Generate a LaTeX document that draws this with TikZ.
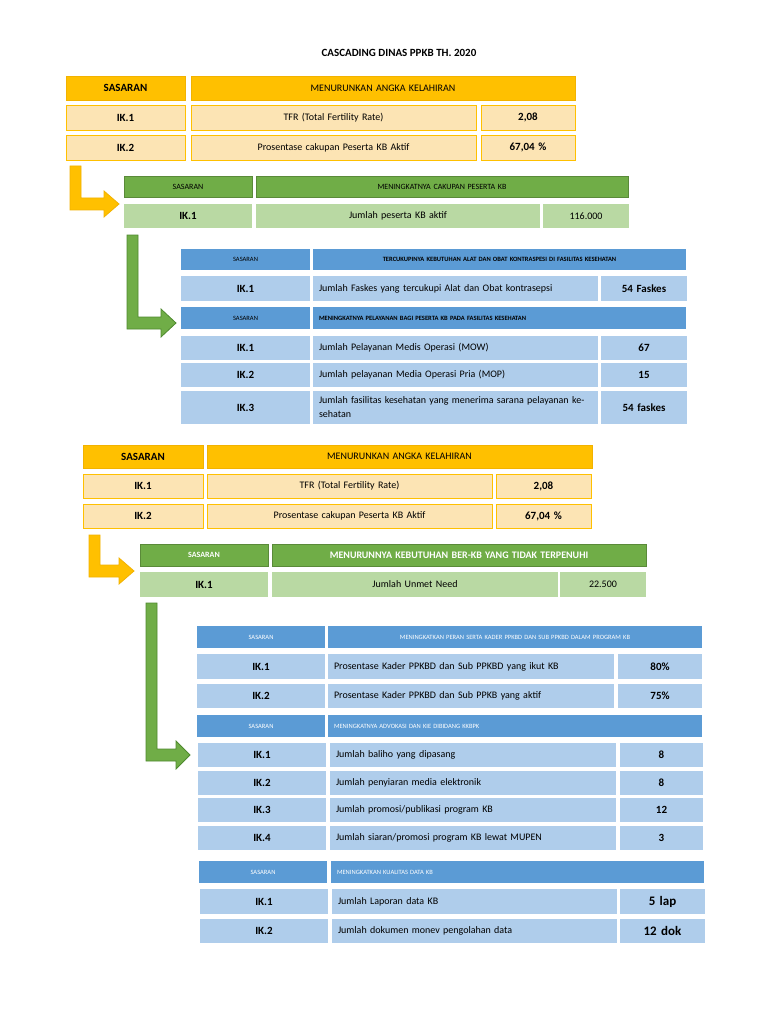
\documentclass[tikz,border=0pt]{standalone}
\usepackage{fontspec}
\setmainfont{Carlito}
\definecolor{orH}{HTML}{FFC000}
\definecolor{orL}{HTML}{FCE4B4}
\definecolor{orE}{HTML}{F2B200}
\definecolor{grH}{HTML}{70AD47}
\definecolor{grL}{HTML}{B9D9A3}
\definecolor{grE}{HTML}{4E8A2E}
\definecolor{blH}{HTML}{5B9BD5}
\definecolor{blL}{HTML}{AFCDEB}
\newcommand\cel[7]{\node[inner sep=0pt,minimum width={(#3-#2)*1pt},minimum height={(#5-#4)*1pt},
  text width={(#3-#2-12)*1pt},#6] (#1) at ({(#2+#3)/2},{(#4+#5)/2}) {#7};}
\begin{document}
\begin{tikzpicture}[x=1pt,y=-1pt,
  oh/.style={fill=orH,draw=orE,line width=0.6pt,align=center,font=\fontsize{10}{12}\selectfont},
  ol/.style={fill=orL,draw=orH,line width=0.6pt,align=center,font=\fontsize{10}{12}\selectfont},
  gh/.style={fill=grH,draw=grH!80!black,line width=0.4pt,align=center,font=\fontsize{8}{10}\selectfont},
  gl/.style={fill=grL,align=center,font=\fontsize{10}{12}\selectfont},
  bh/.style={fill=blH,align=center,font=\fontsize{6.5}{8}\selectfont},
  bl/.style={fill=blL,align=center,font=\fontsize{10}{12}\selectfont},
  lf/.style={align=left},
  bf/.style={font=\bfseries\fontsize{11}{13}\selectfont},
  wt/.style={text=white},
  arrO/.style={fill=orH,draw=orE,line width=0.8pt,line join=miter},
  arrG/.style={fill=grH,draw=grE,line width=0.8pt,line join=miter}]
\useasboundingbox[fill=white] (0,0) rectangle (768,1024);
\node[font=\bfseries\fontsize{11}{13}\selectfont] (title) at (399,53) {CASCADING DINAS PPKB TH. 2020};
% block 1
\cel{a1}{66}{185}{76}{100}{oh,bf}{SASARAN}
\cel{a2}{191}{575}{76}{100}{oh}{MENURUNKAN ANGKA KELAHIRAN}
\cel{a3}{66}{185}{105}{130}{ol,bf}{IK.1}
\cel{a4}{191}{476}{105}{130}{ol}{TFR (Total Fertility Rate)}
\cel{a5}{481}{575}{105}{130}{ol,bf}{2,08}
\cel{a6}{66}{185}{135}{160}{ol,bf}{IK.2}
\cel{a7}{191}{476}{135}{160}{ol}{Prosentase cakupan Peserta KB Aktif}
\cel{a8}{481}{575}{135}{160}{ol,bf}{67,04 \%}
\draw[arrO] (70,166)--(81,166)--(81,198)--(104,198)--(104,191)--(119,204)--(104,217)--(104,210)--(70,210)--cycle;
% block 2
\cel{b1}{124}{252}{176}{197}{gh}{SASARAN}
\cel{b2}{256}{628}{176}{197}{gh}{MENINGKATNYA CAKUPAN PESERTA KB}
\cel{b3}{124}{252}{204}{228}{gl,bf}{IK.1}
\cel{b4}{256}{540}{204}{228}{gl}{Jumlah peserta KB aktif}
\cel{b5}{543}{629}{204}{228}{gl}{116.000}
\draw[arrG] (127,235)--(138,235)--(138,317)--(161,317)--(161,309)--(176,323)--(161,337)--(161,329)--(127,329)--cycle;
% block 3
\cel{c1}{181}{310}{249}{270}{bh}{SASARAN}
\cel{c2}{313}{686}{249}{270}{bh,font=\bfseries\fontsize{6.5}{8}\selectfont}{TERCUKUPINYA KEBUTUHAN ALAT DAN OBAT KONTRASPESI DI FASILITAS KESEHATAN}
\cel{c3}{181}{310}{276}{301}{bl,bf}{IK.1}
\cel{c4}{313}{598}{276}{301}{bl,lf}{Jumlah Faskes yang tercukupi Alat dan Obat kontrasepsi}
\cel{c5}{601}{687}{276}{301}{bl,bf}{54 Faskes}
\cel{c6}{181}{310}{307}{329}{bh}{SASARAN}
\cel{c7}{313}{686}{307}{329}{bh,lf,font=\bfseries\fontsize{6.5}{8}\selectfont}{MENINGKATNYA PELAYANAN BAGI PESERTA KB PADA FASILITAS KESEHATAN}
\cel{c8}{181}{310}{336}{360}{bl,bf}{IK.1}
\cel{c9}{313}{598}{336}{360}{bl,lf}{Jumlah Pelayanan Medis Operasi (MOW)}
\cel{c10}{601}{687}{336}{360}{bl,bf}{67}
\cel{c11}{181}{310}{363}{387}{bl,bf}{IK.2}
\cel{c12}{313}{598}{363}{387}{bl,lf}{Jumlah pelayanan Media Operasi Pria (MOP)}
\cel{c13}{601}{687}{363}{387}{bl,bf}{15}
\cel{c14}{181}{310}{391}{424}{bl,bf}{IK.3}
\cel{c15}{313}{598}{391}{424}{bl,lf,font=\fontsize{10}{14}\selectfont}{Jumlah fasilitas kesehatan yang menerima sarana pelayanan kesehatan}
\cel{c16}{601}{687}{391}{424}{bl,bf}{54 faskes}
% block 4
\cel{d1}{83}{203}{445}{468}{oh,bf}{SASARAN}
\cel{d2}{207}{592}{445}{468}{oh}{MENURUNKAN ANGKA KELAHIRAN}
\cel{d3}{83}{203}{474}{498}{ol,bf}{IK.1}
\cel{d4}{207}{492}{474}{498}{ol}{TFR (Total Fertility Rate)}
\cel{d5}{496}{591}{474}{498}{ol,bf}{2,08}
\cel{d6}{83}{203}{504}{528}{ol,bf}{IK.2}
\cel{d7}{207}{492}{504}{528}{ol}{Prosentase cakupan Peserta KB Aktif}
\cel{d8}{496}{591}{504}{528}{ol,bf}{67,04 \%}
\draw[arrO] (89,535)--(100,535)--(100,565)--(119,565)--(119,558)--(134,571)--(119,584)--(119,577)--(89,577)--cycle;
% block 5
\cel{e1}{140}{268}{544}{566}{gh,wt,font=\bfseries\fontsize{8}{10}\selectfont}{SASARAN}
\cel{e2}{272}{646}{544}{566}{gh,wt,font=\bfseries\fontsize{10}{12}\selectfont}{MENURUNNYA KEBUTUHAN BER-KB YANG TIDAK TERPENUHI}
\cel{e3}{140}{268}{572}{597}{gl,bf}{IK.1}
\cel{e4}{272}{558}{572}{597}{gl}{Jumlah Unmet Need}
\cel{e5}{560}{646}{572}{597}{gl}{22.500}
\draw[arrG] (146,603)--(157,603)--(157,749)--(176,749)--(176,741)--(190,755)--(176,769)--(176,761)--(146,761)--cycle;
% block 6
\cel{f1}{197}{325}{626}{648}{bh,wt}{SASARAN}
\cel{f2}{328}{702}{626}{648}{bh,wt}{MENINGKATKAN PERAN SERTA KADER PPKBD DAN SUB PPKBD DALAM PROGRAM KB}
\cel{f3}{197}{325}{654}{679}{bl,bf}{IK.1}
\cel{f4}{328}{614}{654}{679}{bl,lf}{Prosentase Kader PPKBD dan Sub PPKBD yang ikut KB}
\cel{f5}{618}{702}{654}{679}{bl,bf}{80\%}
\cel{f6}{197}{325}{684}{708}{bl,bf}{IK.2}
\cel{f7}{328}{614}{684}{708}{bl,lf}{Prosentase Kader PPKBD dan Sub PPKB yang aktif}
\cel{f8}{618}{702}{684}{708}{bl,bf}{75\%}
\cel{f9}{197}{325}{715}{737}{bh,wt}{SASARAN}
\cel{f10}{328}{702}{715}{737}{bh,wt,lf}{MENINGKATNYA ADVOKASI DAN KIE DIBIDANG KKBPK}
\cel{g1}{198}{326}{743}{767}{bl,bf}{IK.1}
\cel{g2}{330}{616}{743}{767}{bl,lf}{Jumlah baliho yang dipasang}
\cel{g3}{620}{703}{743}{767}{bl,bf}{8}
\cel{g4}{198}{326}{771}{795}{bl,bf}{IK.2}
\cel{g5}{330}{616}{771}{795}{bl,lf}{Jumlah penyiaran media elektronik}
\cel{g6}{620}{703}{771}{795}{bl,bf}{8}
\cel{g7}{198}{326}{798}{822}{bl,bf}{IK.3}
\cel{g8}{330}{616}{798}{822}{bl,lf}{Jumlah promosi/publikasi program KB}
\cel{g9}{620}{703}{798}{822}{bl,bf}{12}
\cel{g10}{198}{326}{826}{850}{bl,bf}{IK.4}
\cel{g11}{330}{616}{826}{850}{bl,lf}{Jumlah siaran/promosi program KB lewat MUPEN}
\cel{g12}{620}{703}{826}{850}{bl,bf}{3}
% block 7
\cel{h1}{199}{327}{861}{883}{bh,wt}{SASARAN}
\cel{h2}{331}{704}{861}{883}{bh,wt,lf}{MENINGKATKAN KUALITAS DATA KB}
\cel{h3}{200}{328}{889}{914}{bl,bf}{IK.1}
\cel{h4}{332}{617}{889}{914}{bl,lf}{Jumlah Laporan data KB}
\cel{h5}{620}{705}{889}{914}{bl,font=\bfseries\fontsize{13}{15}\selectfont}{5 lap}
\cel{h6}{200}{328}{919}{943}{bl,bf}{IK.2}
\cel{h7}{332}{617}{919}{943}{bl,lf}{Jumlah dokumen monev pengolahan data}
\cel{h8}{620}{705}{919}{943}{bl,font=\bfseries\fontsize{13}{15}\selectfont}{12 dok}
\end{tikzpicture}
\end{document}
